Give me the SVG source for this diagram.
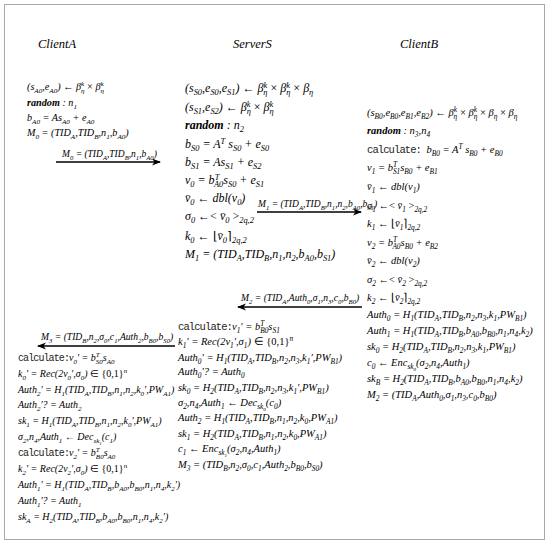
<svg xmlns="http://www.w3.org/2000/svg" width="550" height="545" viewBox="0 0 550 545" font-family="Liberation Serif, serif">
<style>
text{font-style:italic;fill:#000}
.h{font-size:12.5px}
.a{font-size:10.2px}
.s{font-size:12px}
.b{font-size:10.5px}
.w{font-size:10.5px}
.x{font-size:10px}
.l{font-size:9.5px}
.m{font-size:9.6px}
.d{font-size:70%;baseline-shift:-2.5px}
.u{font-size:70%;baseline-shift:4px}
.dd{font-size:5px;baseline-shift:-4.5px}
.c{font-style:normal;font-weight:normal;letter-spacing:-0.9px;fill:#222}
.n{font-style:normal}
.r{font-weight:bold}
.ar{stroke:#000;stroke-width:1.3;fill:none}
</style>
<defs>
<marker id="ah" markerUnits="userSpaceOnUse" markerWidth="10" markerHeight="8" refX="8" refY="3.5" orient="auto">
<path d="M0,0 L9,3.5 L0,7 L2.5,3.5 z" fill="#000"/>
</marker>
</defs>
<rect x="4.5" y="4.5" width="540" height="535" fill="#fff" stroke="#aaa" stroke-width="1"/>

<g id="headers" class="h">
<text x="38" y="48">ClientA</text>
<text x="233" y="48">ServerS</text>
<text x="400" y="48">ClientB</text>
</g>

<g id="clientA-top" class="a">
<text x="27" y="90">(s<tspan class="d">A0</tspan>,e<tspan class="d">A0</tspan>) <tspan class="n">&#8592;</tspan> &#946;<tspan class="u">k</tspan><tspan class="d" dx="-3.2">&#951;</tspan> <tspan class="n">&#215;</tspan> &#946;<tspan class="u">k</tspan><tspan class="d" dx="-3.2">&#951;</tspan></text>
<text x="27" y="106"><tspan class="r">random</tspan> : n<tspan class="d">1</tspan></text>
<text x="27" y="121">b<tspan class="d">A0</tspan> = As<tspan class="d">A0</tspan> + e<tspan class="d">A0</tspan></text>
<text x="27" y="136">M<tspan class="d">0</tspan> = (TID<tspan class="d">A</tspan>,TID<tspan class="d">B</tspan>,n<tspan class="d">1</tspan>,b<tspan class="d">A0</tspan>)</text>
</g>

<g id="serverS-top" class="s">
<text x="185" y="92">(s<tspan class="d">S0</tspan>,e<tspan class="d">S0</tspan>,e<tspan class="d">S1</tspan>) <tspan class="n">&#8592;</tspan> &#946;<tspan class="u">k</tspan><tspan class="d" dx="-3.8">&#951;</tspan> <tspan class="n">&#215;</tspan> &#946;<tspan class="u">k</tspan><tspan class="d" dx="-3.8">&#951;</tspan> <tspan class="n">&#215;</tspan> &#946;<tspan class="d">&#951;</tspan></text>
<text x="185" y="111">(s<tspan class="d">S1</tspan>,e<tspan class="d">S2</tspan>) <tspan class="n">&#8592;</tspan> &#946;<tspan class="u">k</tspan><tspan class="d" dx="-3.8">&#951;</tspan> <tspan class="n">&#215;</tspan> &#946;<tspan class="u">k</tspan><tspan class="d" dx="-3.8">&#951;</tspan></text>
<text x="185" y="129"><tspan class="r">random</tspan> : n<tspan class="d">2</tspan></text>
<text x="185" y="148">b<tspan class="d">S0</tspan> = A<tspan class="u">T</tspan> s<tspan class="d">S0</tspan> + e<tspan class="d">S0</tspan></text>
<text x="185" y="166">b<tspan class="d">S1</tspan> = As<tspan class="d">S1</tspan> + e<tspan class="d">S2</tspan></text>
<text x="185" y="184">v<tspan class="d">0</tspan> = b<tspan class="u">T</tspan><tspan class="d" dx="-4.7">A0</tspan>s<tspan class="d">S0</tspan> + e<tspan class="d">S1</tspan></text>
<text x="185" y="202">v&#772;<tspan class="d">0</tspan> <tspan class="n">&#8592;</tspan> dbl(v<tspan class="d">0</tspan>)</text>
<text x="185" y="220">&#963;<tspan class="d">0</tspan> <tspan class="n">&#8592;&lt;</tspan> v&#772;<tspan class="d">0</tspan> <tspan class="n">&gt;</tspan><tspan class="d">2q,2</tspan></text>
<text x="185" y="240">k<tspan class="d">0</tspan> <tspan class="n">&#8592;</tspan> <tspan class="n">&#8970;</tspan>v&#772;<tspan class="d">0</tspan><tspan class="n">&#8969;</tspan><tspan class="d">2q,2</tspan></text>
<text x="185" y="258">M<tspan class="d">1</tspan> = (TID<tspan class="d">A</tspan>,TID<tspan class="d">B</tspan>,n<tspan class="d">1</tspan>,n<tspan class="d">2</tspan>,b<tspan class="d">A0</tspan>,b<tspan class="d">S1</tspan>)</text>
</g>

<g id="clientB-top" class="b">
<text x="367" y="116">(s<tspan class="d">B0</tspan>,e<tspan class="d">B0</tspan>,e<tspan class="d">B1</tspan>,e<tspan class="d">B2</tspan>) <tspan class="n">&#8592;</tspan> &#946;<tspan class="u">k</tspan><tspan class="d" dx="-3.3">&#951;</tspan> <tspan class="n">&#215;</tspan> &#946;<tspan class="u">k</tspan><tspan class="d" dx="-3.3">&#951;</tspan> <tspan class="n">&#215;</tspan> &#946;<tspan class="d">&#951;</tspan> <tspan class="n">&#215;</tspan> &#946;<tspan class="d">&#951;</tspan></text>
<text x="367" y="134"><tspan class="r">random</tspan> : n<tspan class="d">3</tspan>,n<tspan class="d">4</tspan></text>
<text x="367" y="153"><tspan class="c" font-family="Liberation Mono, monospace">calculate:  </tspan>b<tspan class="d">B0</tspan> = A<tspan class="u">T</tspan> s<tspan class="d">B0</tspan> + e<tspan class="d">B0</tspan></text>
<text x="367" y="171">v<tspan class="d">1</tspan> = b<tspan class="u">T</tspan><tspan class="d" dx="-4.1">S1</tspan>s<tspan class="d">B0</tspan> + e<tspan class="d">B1</tspan></text>
<text x="367" y="190">v&#772;<tspan class="d">1</tspan> <tspan class="n">&#8592;</tspan> dbl(v<tspan class="d">1</tspan>)</text>
<text x="367" y="209">&#963;<tspan class="d">1</tspan> <tspan class="n">&#8592;&lt;</tspan> v&#772;<tspan class="d">1</tspan> <tspan class="n">&gt;</tspan><tspan class="d">2q,2</tspan></text>
<text x="367" y="227">k<tspan class="d">1</tspan> <tspan class="n">&#8592;</tspan> <tspan class="n">&#8970;</tspan>v&#772;<tspan class="d">1</tspan><tspan class="n">&#8969;</tspan><tspan class="d">2q,2</tspan></text>
<text x="367" y="246">v<tspan class="d">2</tspan> = b<tspan class="u">T</tspan><tspan class="d" dx="-4.1">A0</tspan>s<tspan class="d">B0</tspan> + e<tspan class="d">B2</tspan></text>
<text x="367" y="264">v&#772;<tspan class="d">2</tspan> <tspan class="n">&#8592;</tspan> dbl(v<tspan class="d">2</tspan>)</text>
<text x="367" y="283">&#963;<tspan class="d">2</tspan> <tspan class="n">&#8592;&lt;</tspan> v&#772;<tspan class="d">2</tspan> <tspan class="n">&gt;</tspan><tspan class="d">2q,2</tspan></text>
<text x="367" y="301">k<tspan class="d">2</tspan> <tspan class="n">&#8592;</tspan> <tspan class="n">&#8970;</tspan>v&#772;<tspan class="d">2</tspan><tspan class="n">&#8969;</tspan><tspan class="d">2q,2</tspan></text>
</g>

<g id="clientB-bottom" class="b">
<text x="367" y="318">Auth<tspan class="d">0</tspan> = H<tspan class="d">1</tspan>(TID<tspan class="d">A</tspan>,TID<tspan class="d">B</tspan>,n<tspan class="d">2</tspan>,n<tspan class="d">3</tspan>,k<tspan class="d">1</tspan>,PW<tspan class="d">B1</tspan>)</text>
<text x="367" y="334">Auth<tspan class="d">1</tspan> = H<tspan class="d">1</tspan>(TID<tspan class="d">A</tspan>,TID<tspan class="d">B</tspan>,b<tspan class="d">A0</tspan>,b<tspan class="d">B0</tspan>,n<tspan class="d">1</tspan>,n<tspan class="d">4</tspan>,k<tspan class="d">2</tspan>)</text>
<text x="367" y="350">sk<tspan class="d">0</tspan> = H<tspan class="d">2</tspan>(TID<tspan class="d">A</tspan>,TID<tspan class="d">B</tspan>,n<tspan class="d">2</tspan>,n<tspan class="d">3</tspan>,k<tspan class="d">1</tspan>,PW<tspan class="d">B1</tspan>)</text>
<text x="367" y="366">c<tspan class="d">0</tspan> <tspan class="n">&#8592;</tspan> Enc<tspan class="d">sk</tspan><tspan class="dd">0</tspan>(&#963;<tspan class="d">2</tspan>,n<tspan class="d">4</tspan>,Auth<tspan class="d">1</tspan>)</text>
<text x="367" y="382">sk<tspan class="d">B</tspan> = H<tspan class="d">2</tspan>(TID<tspan class="d">A</tspan>,TID<tspan class="d">B</tspan>,b<tspan class="d">A0</tspan>,b<tspan class="d">B0</tspan>,n<tspan class="d">1</tspan>,n<tspan class="d">4</tspan>,k<tspan class="d">2</tspan>)</text>
<text x="367" y="398">M<tspan class="d">2</tspan> = (TID<tspan class="d">A</tspan>,Auth<tspan class="d">0</tspan>,&#963;<tspan class="d">1</tspan>,n<tspan class="d">3</tspan>,c<tspan class="d">0</tspan>,b<tspan class="d">B0</tspan>)</text>
</g>

<g id="serverS-bottom" class="w">
<text x="178" y="330"><tspan class="c" font-family="Liberation Mono, monospace">calculate:</tspan>v<tspan class="d">1</tspan>' = b<tspan class="u">T</tspan><tspan class="d" dx="-4.1">B0</tspan>s<tspan class="d">S1</tspan></text>
<text x="178" y="345">k<tspan class="d">1</tspan>' = Rec(2v<tspan class="d">1</tspan>',&#963;<tspan class="d">1</tspan>) <tspan class="n">&#8712; {0,1}</tspan><tspan class="u">n</tspan></text>
<text x="178" y="361">Auth<tspan class="d">0</tspan>' = H<tspan class="d">1</tspan>(TID<tspan class="d">A</tspan>,TID<tspan class="d">B</tspan>,n<tspan class="d">2</tspan>,n<tspan class="d">3</tspan>,k<tspan class="d">1</tspan>',PW<tspan class="d">B1</tspan>)</text>
<text x="178" y="375">Auth<tspan class="d">0</tspan>'? = Auth<tspan class="d">0</tspan></text>
<text x="178" y="391">sk<tspan class="d">0</tspan> = H<tspan class="d">2</tspan>(TID<tspan class="d">A</tspan>,TID<tspan class="d">B</tspan>,n<tspan class="d">2</tspan>,n<tspan class="d">3</tspan>,k<tspan class="d">1</tspan>',PW<tspan class="d">B1</tspan>)</text>
<text x="178" y="406">&#963;<tspan class="d">2</tspan>,n<tspan class="d">4</tspan>,Auth<tspan class="d">1</tspan> <tspan class="n">&#8592;</tspan> Dec<tspan class="d">sk</tspan><tspan class="dd">0</tspan>(c<tspan class="d">0</tspan>)</text>
<text x="178" y="421">Auth<tspan class="d">2</tspan> = H<tspan class="d">1</tspan>(TID<tspan class="d">A</tspan>,TID<tspan class="d">B</tspan>,n<tspan class="d">1</tspan>,n<tspan class="d">2</tspan>,k<tspan class="d">0</tspan>,PW<tspan class="d">A1</tspan>)</text>
<text x="178" y="437">sk<tspan class="d">1</tspan> = H<tspan class="d">2</tspan>(TID<tspan class="d">A</tspan>,TID<tspan class="d">B</tspan>,n<tspan class="d">1</tspan>,n<tspan class="d">2</tspan>,k<tspan class="d">0</tspan>,PW<tspan class="d">A1</tspan>)</text>
<text x="178" y="452">c<tspan class="d">1</tspan> <tspan class="n">&#8592;</tspan> Enc<tspan class="d">sk</tspan><tspan class="dd">1</tspan>(&#963;<tspan class="d">2</tspan>,n<tspan class="d">4</tspan>,Auth<tspan class="d">1</tspan>)</text>
<text x="178" y="468">M<tspan class="d">3</tspan> = (TID<tspan class="d">B</tspan>,n<tspan class="d">2</tspan>,&#963;<tspan class="d">0</tspan>,c<tspan class="d">1</tspan>,Auth<tspan class="d">2</tspan>,b<tspan class="d">B0</tspan>,b<tspan class="d">S0</tspan>)</text>
</g>

<g id="clientA-bottom" class="x">
<text x="18" y="361"><tspan class="c" font-family="Liberation Mono, monospace">calculate:</tspan>v<tspan class="d">0</tspan>' = b<tspan class="u">T</tspan><tspan class="d" dx="-3.9">S0</tspan>s<tspan class="d">A0</tspan></text>
<text x="18" y="377">k<tspan class="d">0</tspan>' = Rec(2v<tspan class="d">0</tspan>',&#963;<tspan class="d">0</tspan>) <tspan class="n">&#8712; {0,1}</tspan><tspan class="u">n</tspan></text>
<text x="18" y="393">Auth<tspan class="d">2</tspan>' = H<tspan class="d">1</tspan>(TID<tspan class="d">A</tspan>,TID<tspan class="d">B</tspan>,n<tspan class="d">1</tspan>,n<tspan class="d">2</tspan>,k<tspan class="d">0</tspan>',PW<tspan class="d">A1</tspan>)</text>
<text x="18" y="408">Auth<tspan class="d">2</tspan>'? = Auth<tspan class="d">2</tspan></text>
<text x="18" y="424">sk<tspan class="d">1</tspan> = H<tspan class="d">1</tspan>(TID<tspan class="d">A</tspan>,TID<tspan class="d">B</tspan>,n<tspan class="d">1</tspan>,n<tspan class="d">2</tspan>,k<tspan class="d">0</tspan>',PW<tspan class="d">A1</tspan>)</text>
<text x="18" y="440">&#963;<tspan class="d">2</tspan>,n<tspan class="d">4</tspan>,Auth<tspan class="d">1</tspan> <tspan class="n">&#8592;</tspan> Dec<tspan class="d">sk</tspan><tspan class="dd">1</tspan>(c<tspan class="d">1</tspan>)</text>
<text x="18" y="456"><tspan class="c" font-family="Liberation Mono, monospace">calculate:</tspan>v<tspan class="d">2</tspan>' = b<tspan class="u">T</tspan><tspan class="d" dx="-3.9">B0</tspan>s<tspan class="d">A0</tspan></text>
<text x="18" y="472">k<tspan class="d">2</tspan>' = Rec(2v<tspan class="d">2</tspan>',&#963;<tspan class="d">0</tspan>) <tspan class="n">&#8712; {0,1}</tspan><tspan class="u">n</tspan></text>
<text x="18" y="488">Auth<tspan class="d">1</tspan>' = H<tspan class="d">1</tspan>(TID<tspan class="d">A</tspan>,TID<tspan class="d">B</tspan>,b<tspan class="d">A0</tspan>,b<tspan class="d">B0</tspan>,n<tspan class="d">1</tspan>,n<tspan class="d">4</tspan>,k<tspan class="d">2</tspan>')</text>
<text x="18" y="504">Auth<tspan class="d">1</tspan>'? = Auth<tspan class="d">1</tspan></text>
<text x="18" y="520">sk<tspan class="d">A</tspan> = H<tspan class="d">2</tspan>(TID<tspan class="d">A</tspan>,TID<tspan class="d">B</tspan>,b<tspan class="d">A0</tspan>,b<tspan class="d">B0</tspan>,n<tspan class="d">1</tspan>,n<tspan class="d">4</tspan>,k<tspan class="d">2</tspan>')</text>
</g>

<g id="connectors">
<line class="ar" x1="56" y1="162" x2="160" y2="162" marker-end="url(#ah)"/>
<line class="ar" x1="257" y1="212" x2="361" y2="212" marker-end="url(#ah)"/>
<line class="ar" x1="362" y1="307" x2="238" y2="307" marker-end="url(#ah)"/>
<line class="ar" x1="175" y1="346" x2="38" y2="346" marker-end="url(#ah)"/>
<g class="l">
<text x="62" y="157">M<tspan class="d">0</tspan> = (TID<tspan class="d">A</tspan>,TID<tspan class="d">B</tspan>,n<tspan class="d">1</tspan>,b<tspan class="d">A0</tspan>)</text>
<text x="258" y="207">M<tspan class="d">1</tspan> = (TID<tspan class="d">A</tspan>,TID<tspan class="d">B</tspan>,n<tspan class="d">1</tspan>,n<tspan class="d">2</tspan>,b<tspan class="d">A0</tspan>,b<tspan class="d">S1</tspan>)</text>
</g>
<g class="m">
<text x="241" y="301">M<tspan class="d">2</tspan> = (TID<tspan class="d">A</tspan>,Auth<tspan class="d">0</tspan>,&#963;<tspan class="d">1</tspan>,n<tspan class="d">3</tspan>,c<tspan class="d">0</tspan>,b<tspan class="d">B0</tspan>)</text>
<text x="41" y="340">M<tspan class="d">3</tspan> = (TID<tspan class="d">B</tspan>,n<tspan class="d">2</tspan>,&#963;<tspan class="d">0</tspan>,c<tspan class="d">1</tspan>,Auth<tspan class="d">2</tspan>,b<tspan class="d">B0</tspan>,b<tspan class="d">S0</tspan>)</text>
</g>
</g>
</svg>
